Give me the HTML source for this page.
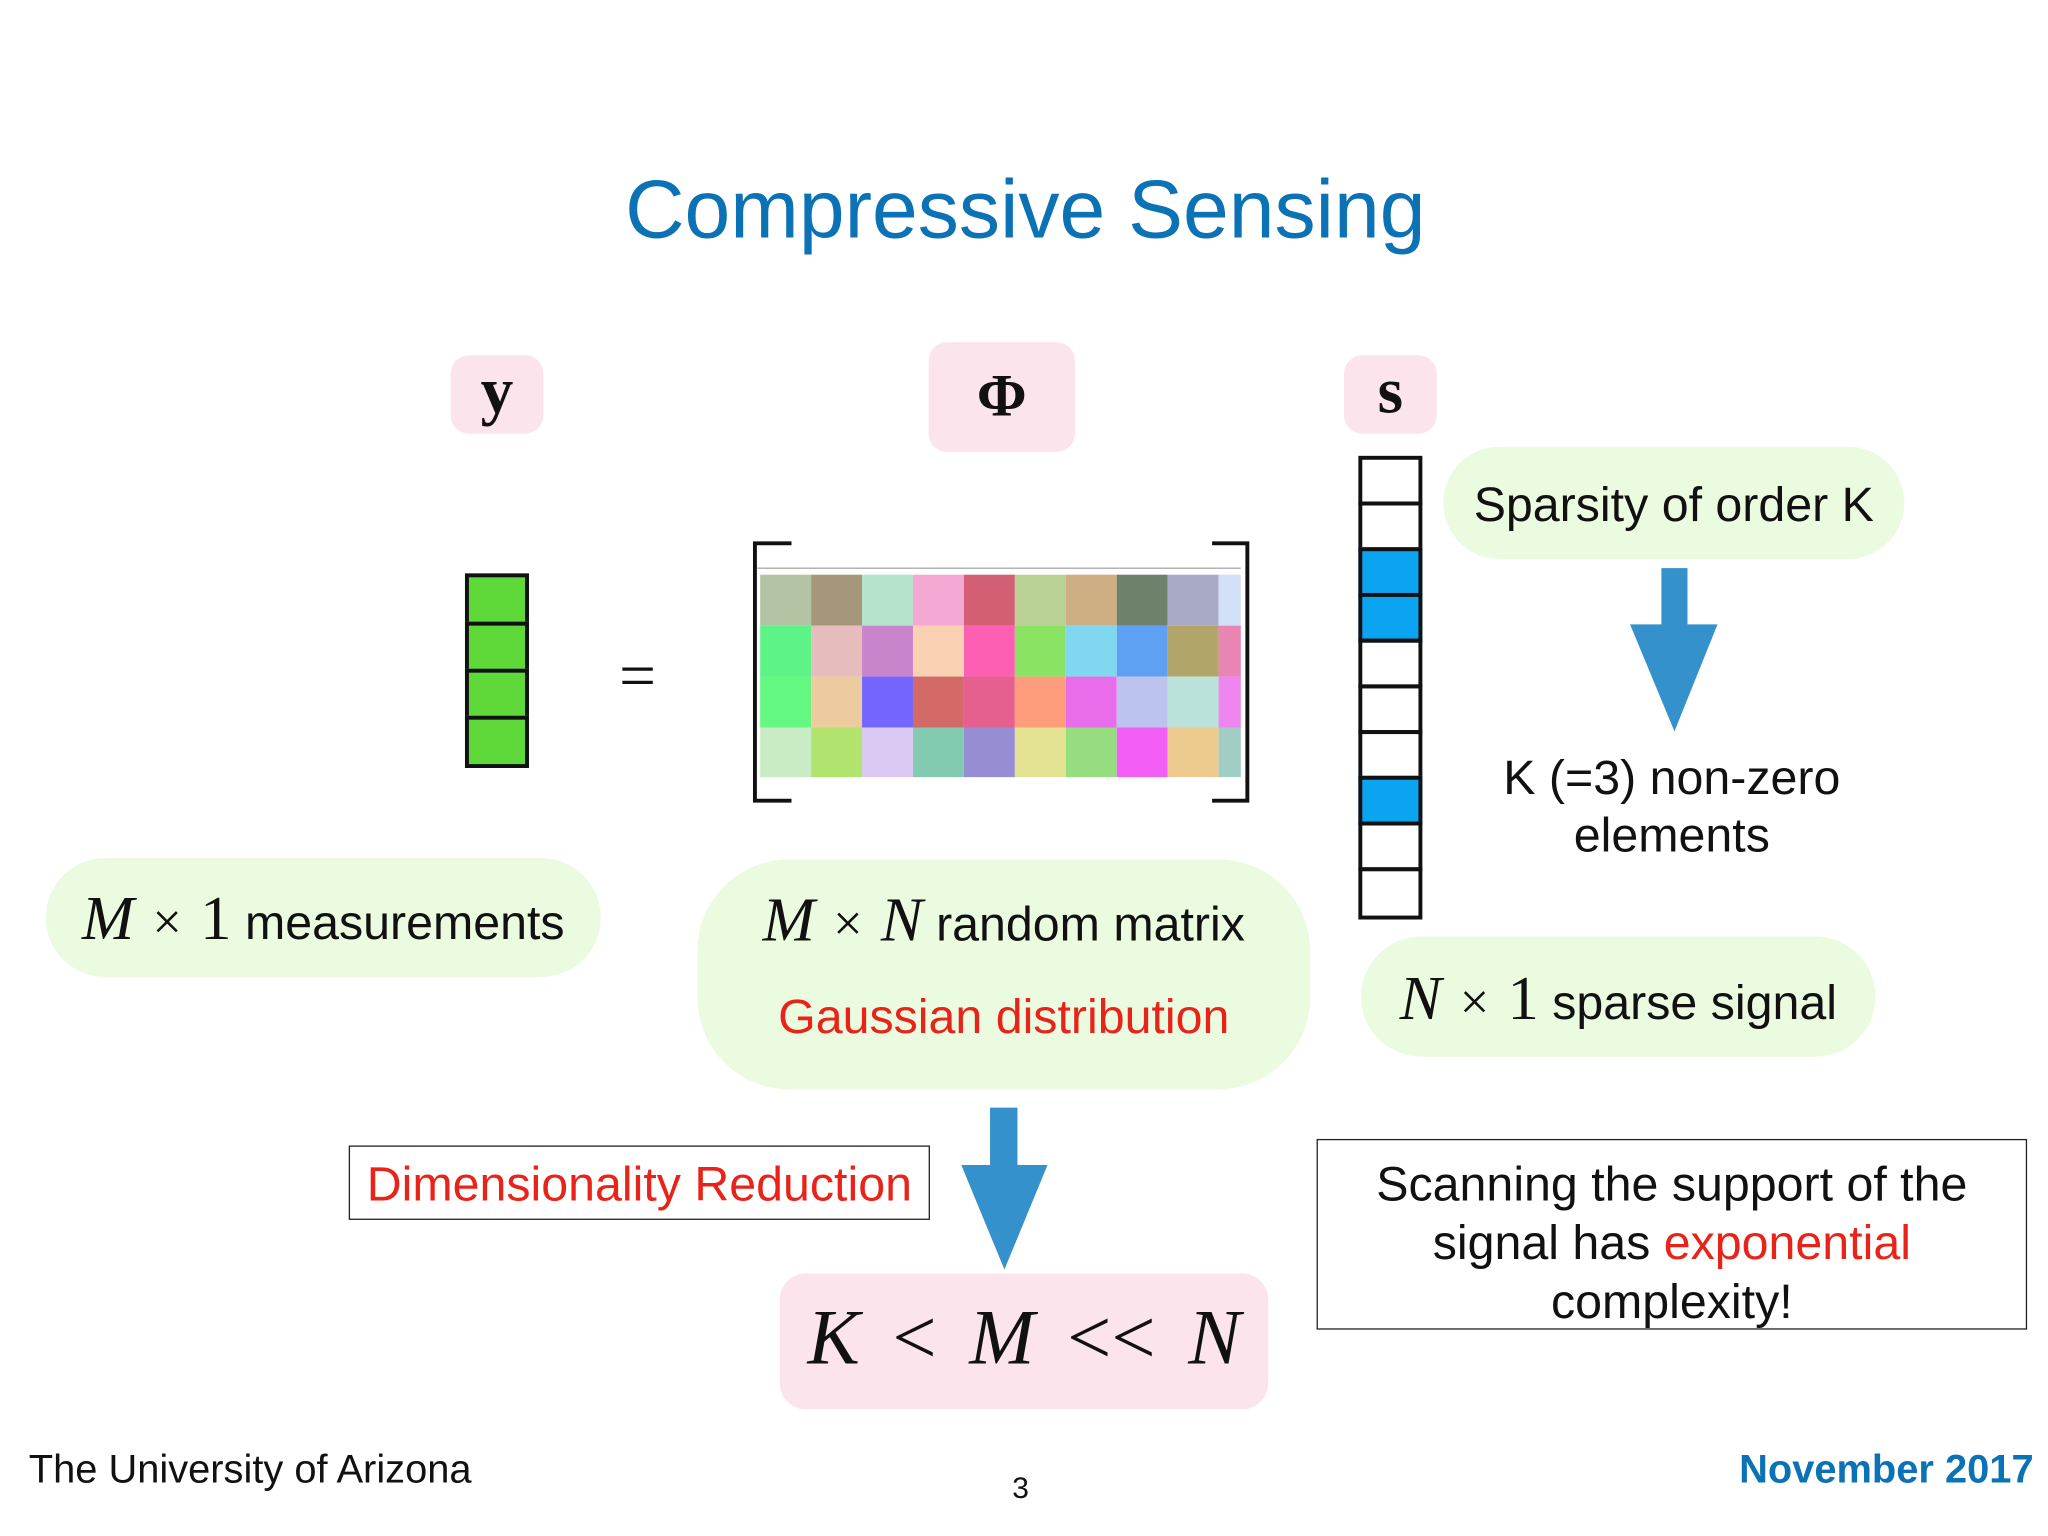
<!DOCTYPE html>
<html><head><meta charset="utf-8"><style>
html,body{margin:0;padding:0;background:#fff;width:2048px;height:1536px;overflow:hidden}
#w{position:absolute;left:0;top:0;width:1568px;height:1176px;transform:scale(1.306122);transform-origin:0 0;font-family:"Liberation Sans",sans-serif;color:#111}
.a{position:absolute}
.pk{position:absolute;background:#fbe4ec;border-radius:14px}
.gb{position:absolute;background:#ebfbe0;border-radius:46px}
.t{position:absolute;white-space:nowrap;font-size:37px;line-height:1}
.m{font-family:"Liberation Serif",serif;font-style:italic;font-size:48px}
.x{font-family:"Liberation Serif",serif;font-size:40px;padding:0 14px}
.c{position:absolute;box-sizing:border-box;border:3px solid #111}
</style></head><body><div id="w">
<div class="t" style="left:0;width:1570px;text-align:center;top:130px;font-size:63px;color:#0a72b5">Compressive Sensing</div>

<div class="pk" style="left:345px;top:272px;width:71px;height:60px"></div>
<div class="t" style="left:345px;width:71px;text-align:center;top:274px;font-family:'Liberation Serif',serif;font-weight:bold;font-size:50px">y</div>
<div class="pk" style="left:711px;top:262px;width:112px;height:84px"></div>
<div class="t" style="left:711px;width:112px;text-align:center;top:280px;font-family:'Liberation Serif',serif;font-weight:bold;font-size:46px">Φ</div>
<div class="pk" style="left:1029px;top:272px;width:71px;height:60px"></div>
<div class="t" style="left:1029px;width:71px;text-align:center;top:274px;font-family:'Liberation Serif',serif;font-weight:bold;font-size:50px">s</div>

<div class="c" style="left:356px;top:439px;width:49px;height:40px;background:#5fd83a"></div>
<div class="c" style="left:356px;top:476px;width:49px;height:40px;background:#5fd83a"></div>
<div class="c" style="left:356px;top:512px;width:49px;height:40px;background:#5fd83a"></div>
<div class="c" style="left:356px;top:548px;width:49px;height:40px;background:#5fd83a"></div>

<div class="t" style="left:474px;top:492px;font-family:'Liberation Serif',serif;font-size:50px">=</div>

<svg class="a" style="left:570px;top:410px" width="400" height="210">
<g transform="translate(12,30)">
<rect x="0" y="0" width="39" height="39" fill="#b3c4a5"/><rect x="39" y="0" width="39" height="39" fill="#a6977b"/><rect x="78" y="0" width="39" height="39" fill="#b5e3cb"/><rect x="117" y="0" width="39" height="39" fill="#f4a8d3"/><rect x="156" y="0" width="39" height="39" fill="#d35f74"/><rect x="195" y="0" width="39" height="39" fill="#b9d194"/><rect x="234" y="0" width="39" height="39" fill="#ceae83"/><rect x="273" y="0" width="39" height="39" fill="#6d816b"/><rect x="312" y="0" width="39" height="39" fill="#a9abc6"/><rect x="351" y="0" width="17" height="39" fill="#d2e1f8"/>
<rect x="0" y="39" width="39" height="39" fill="#5ef387"/><rect x="39" y="39" width="39" height="39" fill="#e7bcbd"/><rect x="78" y="39" width="39" height="39" fill="#c985cc"/><rect x="117" y="39" width="39" height="39" fill="#fbd1b3"/><rect x="156" y="39" width="39" height="39" fill="#fd5fb2"/><rect x="195" y="39" width="39" height="39" fill="#8be363"/><rect x="234" y="39" width="39" height="39" fill="#7fd8f0"/><rect x="273" y="39" width="39" height="39" fill="#5ea0f2"/><rect x="312" y="39" width="39" height="39" fill="#b1a56a"/><rect x="351" y="39" width="17" height="39" fill="#e985b3"/>
<rect x="0" y="78" width="39" height="39" fill="#64f782"/><rect x="39" y="78" width="39" height="39" fill="#eccb9f"/><rect x="78" y="78" width="39" height="39" fill="#7365fd"/><rect x="117" y="78" width="39" height="39" fill="#d46a67"/><rect x="156" y="78" width="39" height="39" fill="#e55f8f"/><rect x="195" y="78" width="39" height="39" fill="#fd9d7c"/><rect x="234" y="78" width="39" height="39" fill="#e96ceb"/><rect x="273" y="78" width="39" height="39" fill="#bcc3ee"/><rect x="312" y="78" width="39" height="39" fill="#bae1da"/><rect x="351" y="78" width="17" height="39" fill="#ef85ee"/>
<rect x="0" y="117" width="39" height="38" fill="#c9ecc5"/><rect x="39" y="117" width="39" height="38" fill="#b1e36f"/><rect x="78" y="117" width="39" height="38" fill="#d9c9f3"/><rect x="117" y="117" width="39" height="38" fill="#82cbb0"/><rect x="156" y="117" width="39" height="38" fill="#978dd3"/><rect x="195" y="117" width="39" height="38" fill="#e3e393"/><rect x="234" y="117" width="39" height="38" fill="#96dd7f"/><rect x="273" y="117" width="39" height="38" fill="#f35ff6"/><rect x="312" y="117" width="39" height="38" fill="#edca8d"/><rect x="351" y="117" width="17" height="38" fill="#a0cdc4"/>
</g>
<line x1="10" y1="25" x2="380" y2="25" stroke="#aaa" stroke-width="1"/>
<path d="M36 6 H8 V203 H36" fill="none" stroke="#111" stroke-width="3"/>
<path d="M358 6 H385 V203 H358" fill="none" stroke="#111" stroke-width="3"/>
</svg>

<div class="c" style="left:1040px;top:349px;width:49px;height:38px"></div>
<div class="c" style="left:1040px;top:384px;width:49px;height:38px"></div>
<div class="c" style="left:1040px;top:419px;width:49px;height:38px;background:#0aa4f0"></div>
<div class="c" style="left:1040px;top:454px;width:49px;height:38px;background:#0aa4f0"></div>
<div class="c" style="left:1040px;top:489px;width:49px;height:38px"></div>
<div class="c" style="left:1040px;top:524px;width:49px;height:38px"></div>
<div class="c" style="left:1040px;top:559px;width:49px;height:38px"></div>
<div class="c" style="left:1040px;top:594px;width:49px;height:38px;background:#0aa4f0"></div>
<div class="c" style="left:1040px;top:629px;width:49px;height:38px"></div>
<div class="c" style="left:1040px;top:664px;width:49px;height:40px"></div>

<div class="gb" style="left:1105px;top:342px;width:353px;height:86px;border-radius:43px"></div>
<div class="t" style="left:1105px;width:353px;text-align:center;top:368px">Sparsity of order K</div>
<svg class="a" style="left:1240px;top:430px" width="90" height="135"><path d="M32 5 H52 V48 H75 L42 130 L8 48 H32 Z" fill="#3591cb"/></svg>
<div class="t" style="left:1130px;width:300px;text-align:center;top:574px;line-height:44px">K (=3) non-zero<br>elements</div>

<div class="gb" style="left:35px;top:657px;width:425px;height:91px"></div>
<div class="t" style="left:35px;width:425px;text-align:center;top:680px"><span class="m">M</span><span class="x">×</span><span class="m" style="font-style:normal">1</span> measurements</div>

<div class="gb" style="left:534px;top:658px;width:469px;height:176px;border-radius:70px"></div>
<div class="t" style="left:534px;width:469px;text-align:center;top:681px"><span class="m">M</span><span class="x">×</span><span class="m">N</span> random matrix</div>
<div class="t" style="left:534px;width:469px;text-align:center;top:760px;color:#e8231a">Gaussian distribution</div>

<div class="gb" style="left:1042px;top:717px;width:394px;height:92px"></div>
<div class="t" style="left:1042px;width:394px;text-align:center;top:741px"><span class="m">N</span><span class="x">×</span><span class="m" style="font-style:normal">1</span> sparse signal</div>

<div class="a" style="left:267px;top:877px;width:445px;height:57px;border:1.5px solid #222;box-sizing:border-box"></div>
<div class="t" style="left:267px;width:445px;text-align:center;top:888px;color:#e8231a">Dimensionality Reduction</div>

<svg class="a" style="left:730px;top:845px" width="80" height="130"><path d="M28 3 H49 V47 H72 L39 127 L6 47 H28 Z" fill="#3591cb"/></svg>

<div class="pk" style="left:597px;top:975px;width:374px;height:104px;border-radius:20px"></div>
<div class="t" style="left:597px;width:374px;text-align:center;top:994px;font-family:'Liberation Serif',serif;font-style:italic;font-size:60px;word-spacing:10px">K <span style="font-style:normal">&lt;</span> M <span style="font-style:normal">&lt;&lt;</span> N</div>

<div class="a" style="left:1008px;top:872px;width:544px;height:146px;border:1.5px solid #222;box-sizing:border-box"></div>
<div class="t" style="left:1008px;width:544px;text-align:center;top:884px;line-height:45px">Scanning the support of the<br>signal has <span style="color:#e8231a">exponential</span><br>complexity!</div>

<div class="t" style="left:22px;top:1110px;font-size:30.5px">The University of Arizona</div>
<div class="t" style="left:775px;top:1128px;font-size:23px">3</div>
<div class="t" style="right:11px;top:1110px;font-size:30.5px;font-weight:bold;color:#0a72b5">November 2017</div>
</div></body></html>
